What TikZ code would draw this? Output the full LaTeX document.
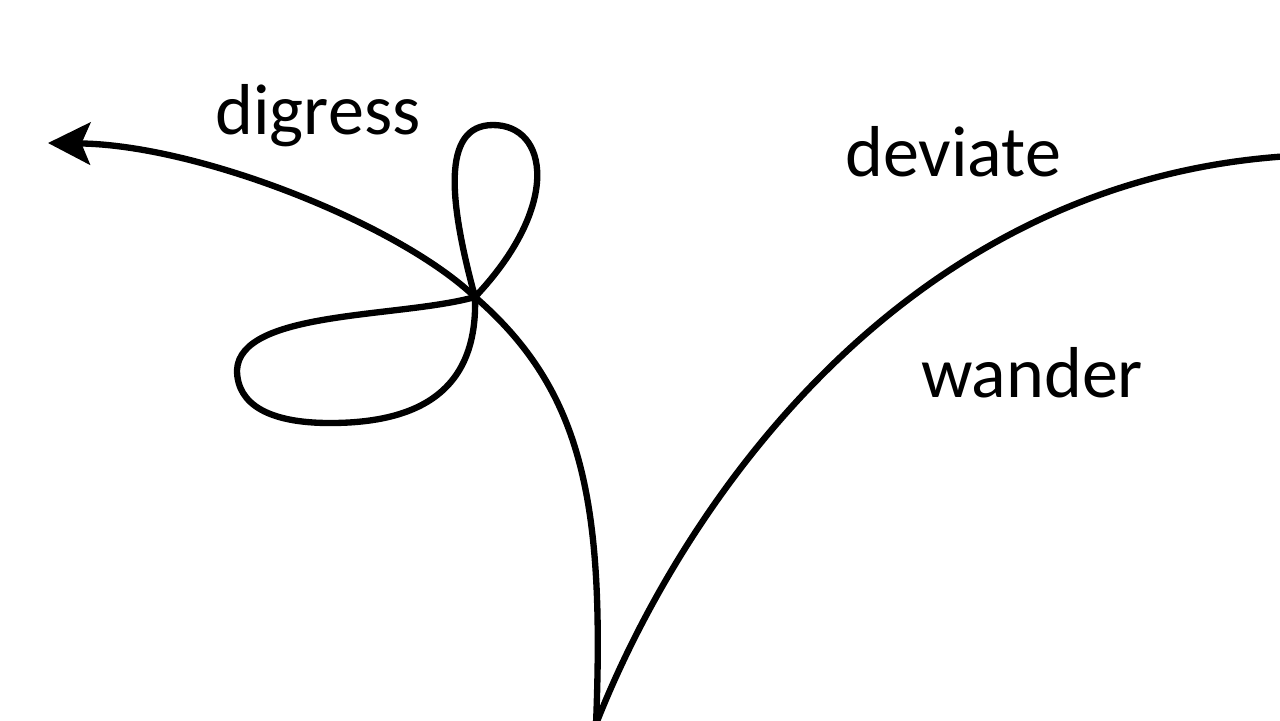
\documentclass[tikz,border=0pt]{standalone}
\usepackage{fontspec}
\setmainfont{Carlito}
\usetikzlibrary{arrows.meta}
\tikzset{
  curve/.style={line width=1.8pt, line cap=round, line join=round},
  word/.style={font=\fontsize{20.5}{24}\selectfont, anchor=base, inner sep=0pt}
}
\begin{document}
\begin{tikzpicture}[x=0.01cm,y=-0.01cm]
  \useasboundingbox (0,0) rectangle (1280,720);
  \coordinate (root) at (596,724);
  \coordinate (knot) at (475,297);
  \coordinate (tip) at (48,143);
  \coordinate (edge) at (1290,156);
  \coordinate (loopTop) at (493,125);
  \coordinate (loopLeft) at (237,370);
  \coordinate (loopBottom) at (330,423);

  \node[word] (digress) at (318,134) {digress};
  \node[word] (deviate) at (953,176) {deviate};
  \node[word] (wander) at (1032,397) {wander};

  \draw[curve, -{Stealth[length=12pt,width=12pt,inset=2.5pt]}] (root) .. controls (605,500) and (582,390) .. (knot)
    .. controls (400,225) and (200,145) .. (tip);
  \draw[curve] (knot) .. controls (450,205) and (440,125) .. (loopTop) .. controls (548,125) and (562,205) .. (knot)
    .. controls (400,318) and (240,310) .. (loopLeft) .. controls (237,405) and (270,423) .. (loopBottom)
    .. controls (420,423) and (478,390) .. (knot);
  \draw[curve] (root) .. controls (680,510) and (900,180) .. (edge);
\end{tikzpicture}
\end{document}
